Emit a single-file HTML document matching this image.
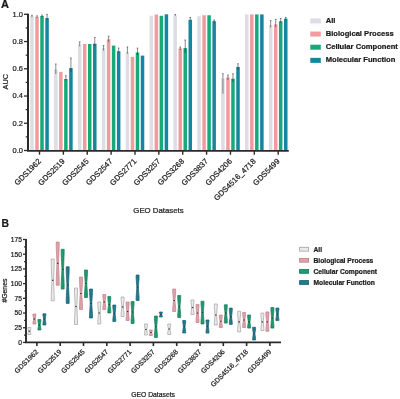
<!DOCTYPE html>
<html><head><meta charset="utf-8"><style>
html,body{margin:0;padding:0;background:#fff;width:400px;height:399px;overflow:hidden}
svg{display:block;will-change:transform}
text{font-family:"Liberation Sans", sans-serif;fill:#1a1a1a;stroke:#1a1a1a;stroke-width:0.22px}
</style></head><body>
<svg width="400" height="399" viewBox="0 0 400 399">
<rect width="400" height="399" fill="#fff"/>
<g id="chartA">
<rect x="30.20" y="16.25" width="3.5" height="134.25" fill="#dddde3"/>
<rect x="35.25" y="16.90" width="3.5" height="133.60" fill="#f09c9e"/>
<rect x="40.25" y="16.00" width="3.5" height="134.50" fill="#15aa7a"/>
<rect x="45.30" y="18.10" width="3.5" height="132.40" fill="#15869d"/>
<rect x="54.07" y="69.50" width="3.5" height="81.00" fill="#dddde3"/>
<rect x="59.12" y="71.90" width="3.5" height="78.60" fill="#f09c9e"/>
<rect x="64.12" y="79.00" width="3.5" height="71.50" fill="#15aa7a"/>
<rect x="69.17" y="68.10" width="3.5" height="82.40" fill="#15869d"/>
<rect x="77.94" y="44.40" width="3.5" height="106.10" fill="#dddde3"/>
<rect x="82.99" y="44.00" width="3.5" height="106.50" fill="#f09c9e"/>
<rect x="87.99" y="44.00" width="3.5" height="106.50" fill="#15aa7a"/>
<rect x="93.04" y="43.75" width="3.5" height="106.75" fill="#15869d"/>
<rect x="101.81" y="48.10" width="3.5" height="102.40" fill="#dddde3"/>
<rect x="106.86" y="39.40" width="3.5" height="111.10" fill="#f09c9e"/>
<rect x="111.86" y="45.60" width="3.5" height="104.90" fill="#15aa7a"/>
<rect x="116.91" y="51.25" width="3.5" height="99.25" fill="#15869d"/>
<rect x="125.68" y="51.90" width="3.5" height="98.60" fill="#dddde3"/>
<rect x="130.73" y="56.90" width="3.5" height="93.60" fill="#f09c9e"/>
<rect x="135.73" y="52.50" width="3.5" height="98.00" fill="#15aa7a"/>
<rect x="140.78" y="55.60" width="3.5" height="94.90" fill="#15869d"/>
<rect x="149.55" y="15.80" width="3.5" height="134.70" fill="#dddde3"/>
<rect x="154.60" y="14.50" width="3.5" height="136.00" fill="#f09c9e"/>
<rect x="159.60" y="15.80" width="3.5" height="134.70" fill="#15aa7a"/>
<rect x="164.65" y="14.30" width="3.5" height="136.20" fill="#15869d"/>
<rect x="173.42" y="15.50" width="3.5" height="135.00" fill="#dddde3"/>
<rect x="178.47" y="48.50" width="3.5" height="102.00" fill="#f09c9e"/>
<rect x="183.47" y="48.10" width="3.5" height="102.40" fill="#15aa7a"/>
<rect x="188.52" y="19.80" width="3.5" height="130.70" fill="#15869d"/>
<rect x="197.29" y="16.25" width="3.5" height="134.25" fill="#dddde3"/>
<rect x="202.34" y="15.25" width="3.5" height="135.25" fill="#f09c9e"/>
<rect x="207.34" y="15.25" width="3.5" height="135.25" fill="#15aa7a"/>
<rect x="212.39" y="21.25" width="3.5" height="129.25" fill="#15869d"/>
<rect x="221.16" y="78.50" width="3.5" height="72.00" fill="#dddde3"/>
<rect x="226.21" y="77.50" width="3.5" height="73.00" fill="#f09c9e"/>
<rect x="231.21" y="78.75" width="3.5" height="71.75" fill="#15aa7a"/>
<rect x="236.26" y="66.90" width="3.5" height="83.60" fill="#15869d"/>
<rect x="245.03" y="14.40" width="3.5" height="136.10" fill="#dddde3"/>
<rect x="250.08" y="14.40" width="3.5" height="136.10" fill="#f09c9e"/>
<rect x="255.08" y="14.40" width="3.5" height="136.10" fill="#15aa7a"/>
<rect x="260.13" y="14.40" width="3.5" height="136.10" fill="#15869d"/>
<rect x="268.90" y="25.00" width="3.5" height="125.50" fill="#dddde3"/>
<rect x="273.95" y="24.40" width="3.5" height="126.10" fill="#f09c9e"/>
<rect x="278.95" y="21.25" width="3.5" height="129.25" fill="#15aa7a"/>
<rect x="284.00" y="18.75" width="3.5" height="131.75" fill="#15869d"/>
<path d="M31.95 15.20V17.20M31.15 15.20H32.75" stroke="#2a2a2a" stroke-width="0.55" fill="none"/>
<path d="M37.00 15.80V18.00M36.20 15.80H37.80" stroke="#2a2a2a" stroke-width="0.55" fill="none"/>
<path d="M42.00 15.00V17.00M41.20 15.00H42.80" stroke="#2a2a2a" stroke-width="0.55" fill="none"/>
<path d="M47.05 14.40V20.00M46.25 14.40H47.85" stroke="#2a2a2a" stroke-width="0.55" fill="none"/>
<path d="M55.82 64.00V74.00M55.02 64.00H56.62" stroke="#2a2a2a" stroke-width="0.55" fill="none"/>
<path d="M65.87 75.70V80.50M65.07 75.70H66.67" stroke="#2a2a2a" stroke-width="0.55" fill="none"/>
<path d="M70.92 58.00V72.00M70.12 58.00H71.72" stroke="#2a2a2a" stroke-width="0.55" fill="none"/>
<path d="M79.69 41.90V46.25M78.89 41.90H80.49" stroke="#2a2a2a" stroke-width="0.55" fill="none"/>
<path d="M94.79 37.50V46.00M93.99 37.50H95.59" stroke="#2a2a2a" stroke-width="0.55" fill="none"/>
<path d="M103.56 45.60V50.60M102.76 45.60H104.36" stroke="#2a2a2a" stroke-width="0.55" fill="none"/>
<path d="M108.61 36.25V41.90M107.81 36.25H109.41" stroke="#2a2a2a" stroke-width="0.55" fill="none"/>
<path d="M118.66 48.10V53.00M117.86 48.10H119.46" stroke="#2a2a2a" stroke-width="0.55" fill="none"/>
<path d="M127.43 46.90V53.75M126.63 46.90H128.23" stroke="#2a2a2a" stroke-width="0.55" fill="none"/>
<path d="M137.48 48.10V55.00M136.68 48.10H138.28" stroke="#2a2a2a" stroke-width="0.55" fill="none"/>
<path d="M175.17 14.50V16.00M174.37 14.50H175.97" stroke="#2a2a2a" stroke-width="0.55" fill="none"/>
<path d="M180.22 47.00V50.00M179.42 47.00H181.02" stroke="#2a2a2a" stroke-width="0.55" fill="none"/>
<path d="M185.22 40.00V53.00M184.42 40.00H186.02" stroke="#2a2a2a" stroke-width="0.55" fill="none"/>
<path d="M190.27 17.50V20.00M189.47 17.50H191.07" stroke="#2a2a2a" stroke-width="0.55" fill="none"/>
<path d="M214.14 20.00V23.00M213.34 20.00H214.94" stroke="#2a2a2a" stroke-width="0.55" fill="none"/>
<path d="M222.91 73.75V93.75M222.11 73.75H223.71" stroke="#2a2a2a" stroke-width="0.55" fill="none"/>
<path d="M227.96 75.00V80.00M227.16 75.00H228.76" stroke="#2a2a2a" stroke-width="0.55" fill="none"/>
<path d="M232.96 73.75V82.00M232.16 73.75H233.76" stroke="#2a2a2a" stroke-width="0.55" fill="none"/>
<path d="M238.01 63.75V70.00M237.21 63.75H238.81" stroke="#2a2a2a" stroke-width="0.55" fill="none"/>
<path d="M270.65 20.60V27.50M269.85 20.60H271.45" stroke="#2a2a2a" stroke-width="0.55" fill="none"/>
<path d="M275.70 19.40V27.00M274.90 19.40H276.50" stroke="#2a2a2a" stroke-width="0.55" fill="none"/>
<path d="M280.70 18.50V23.00M279.90 18.50H281.50" stroke="#2a2a2a" stroke-width="0.55" fill="none"/>
<path d="M285.75 17.50V20.00M284.95 17.50H286.55" stroke="#2a2a2a" stroke-width="0.55" fill="none"/>
<path d="M28.0 13.8V150.85" stroke="#2a2a2a" stroke-width="2" fill="none"/>
<path d="M27.0 150.85H288.8" stroke="#2a2a2a" stroke-width="1.8" fill="none"/>
<path d="M24.0 150.50H28.0" stroke="#2a2a2a" stroke-width="1.3"/>
<text x="23.0" y="152.80" text-anchor="end" font-size="7.5">0.0</text>
<path d="M25.7 136.88H28.0" stroke="#2a2a2a" stroke-width="1.2"/>
<path d="M24.0 123.26H28.0" stroke="#2a2a2a" stroke-width="1.3"/>
<text x="23.0" y="125.56" text-anchor="end" font-size="7.5">0.2</text>
<path d="M25.7 109.64H28.0" stroke="#2a2a2a" stroke-width="1.2"/>
<path d="M24.0 96.02H28.0" stroke="#2a2a2a" stroke-width="1.3"/>
<text x="23.0" y="98.32" text-anchor="end" font-size="7.5">0.4</text>
<path d="M25.7 82.40H28.0" stroke="#2a2a2a" stroke-width="1.2"/>
<path d="M24.0 68.78H28.0" stroke="#2a2a2a" stroke-width="1.3"/>
<text x="23.0" y="71.08" text-anchor="end" font-size="7.5">0.6</text>
<path d="M25.7 55.16H28.0" stroke="#2a2a2a" stroke-width="1.2"/>
<path d="M24.0 41.54H28.0" stroke="#2a2a2a" stroke-width="1.3"/>
<text x="23.0" y="43.84" text-anchor="end" font-size="7.5">0.8</text>
<path d="M25.7 27.92H28.0" stroke="#2a2a2a" stroke-width="1.2"/>
<path d="M24.0 14.30H28.0" stroke="#2a2a2a" stroke-width="1.3"/>
<text x="23.0" y="16.60" text-anchor="end" font-size="7.5">1.0</text>
<path d="M39.50 150.5V154.7" stroke="#2a2a2a" stroke-width="1.4"/>
<text x="41.50" y="161.80" text-anchor="end" font-size="7.75" transform="rotate(-45 41.50 161.80)">GDS1962</text>
<path d="M63.37 150.5V154.7" stroke="#2a2a2a" stroke-width="1.4"/>
<text x="65.37" y="161.80" text-anchor="end" font-size="7.75" transform="rotate(-45 65.37 161.80)">GDS2519</text>
<path d="M87.24 150.5V154.7" stroke="#2a2a2a" stroke-width="1.4"/>
<text x="89.24" y="161.80" text-anchor="end" font-size="7.75" transform="rotate(-45 89.24 161.80)">GDS2545</text>
<path d="M111.11 150.5V154.7" stroke="#2a2a2a" stroke-width="1.4"/>
<text x="113.11" y="161.80" text-anchor="end" font-size="7.75" transform="rotate(-45 113.11 161.80)">GDS2547</text>
<path d="M134.98 150.5V154.7" stroke="#2a2a2a" stroke-width="1.4"/>
<text x="136.98" y="161.80" text-anchor="end" font-size="7.75" transform="rotate(-45 136.98 161.80)">GDS2771</text>
<path d="M158.85 150.5V154.7" stroke="#2a2a2a" stroke-width="1.4"/>
<text x="160.85" y="161.80" text-anchor="end" font-size="7.75" transform="rotate(-45 160.85 161.80)">GDS3257</text>
<path d="M182.72 150.5V154.7" stroke="#2a2a2a" stroke-width="1.4"/>
<text x="184.72" y="161.80" text-anchor="end" font-size="7.75" transform="rotate(-45 184.72 161.80)">GDS3268</text>
<path d="M206.59 150.5V154.7" stroke="#2a2a2a" stroke-width="1.4"/>
<text x="208.59" y="161.80" text-anchor="end" font-size="7.75" transform="rotate(-45 208.59 161.80)">GDS3837</text>
<path d="M230.46 150.5V154.7" stroke="#2a2a2a" stroke-width="1.4"/>
<text x="232.46" y="161.80" text-anchor="end" font-size="7.75" transform="rotate(-45 232.46 161.80)">GDS4206</text>
<path d="M254.33 150.5V154.7" stroke="#2a2a2a" stroke-width="1.4"/>
<text x="256.33" y="161.80" text-anchor="end" font-size="7.75" transform="rotate(-45 256.33 161.80)">GDS4516_4718</text>
<path d="M278.20 150.5V154.7" stroke="#2a2a2a" stroke-width="1.4"/>
<text x="280.20" y="161.80" text-anchor="end" font-size="7.75" transform="rotate(-45 280.20 161.80)">GDS5499</text>
<text x="7.6" y="81.75" text-anchor="middle" font-size="7.3" transform="rotate(-90 7.6 81.75)">AUC</text>
<text x="158.5" y="213.3" text-anchor="middle" font-size="7.8">GEO Datasets</text>
<text x="0.9" y="8.4" font-size="11" font-weight="bold">A</text>
<rect x="310.3" y="18.40" width="10.5" height="5" fill="#dddde3"/>
<text x="325.7" y="22.60" font-size="7.6" font-weight="bold">All</text>
<rect x="310.3" y="31.55" width="10.5" height="5" fill="#f09c9e"/>
<text x="325.7" y="35.75" font-size="7.6" font-weight="bold">Biological Process</text>
<rect x="310.3" y="44.70" width="10.5" height="5" fill="#15aa7a"/>
<text x="325.7" y="48.90" font-size="7.6" font-weight="bold">Cellular Component</text>
<rect x="310.3" y="57.85" width="10.5" height="5" fill="#15869d"/>
<text x="325.7" y="62.05" font-size="7.6" font-weight="bold">Molecular Function</text>
</g>
<g id="chartB">
<path d="M27.92 327.50H30.88V328.43L30.18 331.20L30.88 333.68V334.50H27.92V333.68L28.62 331.20L27.92 328.43Z" fill="#ebebeb" stroke="#a0a0a0" stroke-width="0.7"/>
<path d="M28.62 331.20H30.18" stroke="#333" stroke-width="1.1"/>
<path d="M32.92 314.00H35.88V315.25L35.17 319.00L35.88 322.75V324.00H32.92V322.75L33.62 319.00L32.92 315.25Z" fill="#e0a2aa" stroke="#c07e8a" stroke-width="0.7"/>
<path d="M33.62 319.00H35.17" stroke="#333" stroke-width="1.1"/>
<path d="M37.92 319.50H40.88V320.88L40.17 325.00L40.88 328.75V330.00H37.92V328.75L38.62 325.00L37.92 320.88Z" fill="#1d9a6f" stroke="#157a56" stroke-width="0.7"/>
<path d="M38.62 325.00H40.17" stroke="#333" stroke-width="1.1"/>
<path d="M42.92 313.80H45.88V315.10L45.17 319.00L45.88 323.50V325.00H42.92V323.50L43.62 319.00L42.92 315.10Z" fill="#1f7b8e" stroke="#175f70" stroke-width="0.7"/>
<path d="M43.62 319.00H45.17" stroke="#333" stroke-width="1.1"/>
<path d="M51.23 259.00H54.18V264.32L53.48 280.30L54.18 295.68V300.80H51.23V295.68L51.93 280.30L51.23 264.32Z" fill="#ebebeb" stroke="#a0a0a0" stroke-width="0.7"/>
<path d="M51.93 280.30H53.48" stroke="#333" stroke-width="1.1"/>
<path d="M56.23 242.10H59.18V247.42L58.48 263.40L59.18 279.75V285.20H56.23V279.75L56.93 263.40L56.23 247.42Z" fill="#e0a2aa" stroke="#c07e8a" stroke-width="0.7"/>
<path d="M56.93 263.40H58.48" stroke="#333" stroke-width="1.1"/>
<path d="M61.23 249.30H64.17V254.32L63.47 269.40L64.17 284.18V289.10H61.23V284.18L61.93 269.40L61.23 254.32Z" fill="#1d9a6f" stroke="#157a56" stroke-width="0.7"/>
<path d="M61.93 269.40H63.47" stroke="#333" stroke-width="1.1"/>
<path d="M66.23 266.80H69.17V271.30L68.47 284.80L69.17 298.75V303.40H66.23V298.75L66.93 284.80L66.23 271.30Z" fill="#1f7b8e" stroke="#175f70" stroke-width="0.7"/>
<path d="M66.93 284.80H68.47" stroke="#333" stroke-width="1.1"/>
<path d="M74.53 288.00H77.47V292.62L76.77 306.50L77.47 320.00V324.50H74.53V320.00L75.23 306.50L74.53 292.62Z" fill="#ebebeb" stroke="#a0a0a0" stroke-width="0.7"/>
<path d="M75.23 306.50H76.77" stroke="#333" stroke-width="1.1"/>
<path d="M79.53 277.00H82.47V281.12L81.77 293.50L82.47 305.50V309.50H79.53V305.50L80.23 293.50L79.53 281.12Z" fill="#e0a2aa" stroke="#c07e8a" stroke-width="0.7"/>
<path d="M80.23 293.50H81.77" stroke="#333" stroke-width="1.1"/>
<path d="M84.53 270.00H87.47V273.38L86.77 283.50L87.47 294.00V297.50H84.53V294.00L85.23 283.50L84.53 273.38Z" fill="#1d9a6f" stroke="#157a56" stroke-width="0.7"/>
<path d="M85.23 283.50H86.77" stroke="#333" stroke-width="1.1"/>
<path d="M89.53 289.00H92.47V292.62L91.77 303.50L92.47 314.38V318.00H89.53V314.38L90.23 303.50L89.53 292.62Z" fill="#1f7b8e" stroke="#175f70" stroke-width="0.7"/>
<path d="M90.23 303.50H91.77" stroke="#333" stroke-width="1.1"/>
<path d="M97.83 302.00H100.78V304.75L100.08 313.00L100.78 321.25V324.00H97.83V321.25L98.53 313.00L97.83 304.75Z" fill="#ebebeb" stroke="#a0a0a0" stroke-width="0.7"/>
<path d="M98.53 313.00H100.08" stroke="#333" stroke-width="1.1"/>
<path d="M102.83 294.50H105.78V296.38L105.08 302.00L105.78 307.62V309.50H102.83V307.62L103.53 302.00L102.83 296.38Z" fill="#e0a2aa" stroke="#c07e8a" stroke-width="0.7"/>
<path d="M103.53 302.00H105.08" stroke="#333" stroke-width="1.1"/>
<path d="M107.83 296.50H110.78V298.50L110.08 304.50L110.78 310.88V313.00H107.83V310.88L108.53 304.50L107.83 298.50Z" fill="#1d9a6f" stroke="#157a56" stroke-width="0.7"/>
<path d="M108.53 304.50H110.08" stroke="#333" stroke-width="1.1"/>
<path d="M112.83 305.00H115.78V307.12L115.08 313.50L115.78 319.50V321.50H112.83V319.50L113.53 313.50L112.83 307.12Z" fill="#1f7b8e" stroke="#175f70" stroke-width="0.7"/>
<path d="M113.53 313.50H115.08" stroke="#333" stroke-width="1.1"/>
<path d="M121.12 297.00H124.07V299.50L123.37 307.00L124.07 314.12V316.50H121.12V314.12L121.83 307.00L121.12 299.50Z" fill="#ebebeb" stroke="#a0a0a0" stroke-width="0.7"/>
<path d="M121.83 307.00H123.37" stroke="#333" stroke-width="1.1"/>
<path d="M126.12 302.00H129.07V304.38L128.38 311.50L129.07 318.25V320.50H126.12V318.25L126.83 311.50L126.12 304.38Z" fill="#e0a2aa" stroke="#c07e8a" stroke-width="0.7"/>
<path d="M126.83 311.50H128.38" stroke="#333" stroke-width="1.1"/>
<path d="M131.12 301.50H134.07V304.12L133.38 312.00L134.07 320.62V323.50H131.12V320.62L131.82 312.00L131.12 304.12Z" fill="#1d9a6f" stroke="#157a56" stroke-width="0.7"/>
<path d="M131.82 312.00H133.38" stroke="#333" stroke-width="1.1"/>
<path d="M136.12 275.00H139.07V278.12L138.38 287.50L139.07 297.25V300.50H136.12V297.25L136.82 287.50L136.12 278.12Z" fill="#1f7b8e" stroke="#175f70" stroke-width="0.7"/>
<path d="M136.82 287.50H138.38" stroke="#333" stroke-width="1.1"/>
<path d="M144.43 324.00H147.38V325.38L146.68 329.50L147.38 333.62V335.00H144.43V333.62L145.12 329.50L144.43 325.38Z" fill="#ebebeb" stroke="#a0a0a0" stroke-width="0.7"/>
<path d="M145.12 329.50H146.68" stroke="#333" stroke-width="1.1"/>
<path d="M149.43 330.00H152.38V330.62L151.68 332.50L152.38 334.75V335.50H149.43V334.75L150.12 332.50L149.43 330.62Z" fill="#e0a2aa" stroke="#c07e8a" stroke-width="0.7"/>
<path d="M150.12 332.50H151.68" stroke="#333" stroke-width="1.1"/>
<path d="M154.43 316.00H157.38V318.70L156.68 326.80L157.38 334.82V337.50H154.43V334.82L155.12 326.80L154.43 318.70Z" fill="#1d9a6f" stroke="#157a56" stroke-width="0.7"/>
<path d="M155.12 326.80H156.68" stroke="#333" stroke-width="1.1"/>
<path d="M159.43 312.00H162.38V312.62L161.68 314.50L162.38 316.38V317.00H159.43V316.38L160.12 314.50L159.43 312.62Z" fill="#1f7b8e" stroke="#175f70" stroke-width="0.7"/>
<path d="M160.12 314.50H161.68" stroke="#333" stroke-width="1.1"/>
<path d="M167.73 324.00H170.68V325.25L169.98 329.00L170.68 333.12V334.50H167.73V333.12L168.43 329.00L167.73 325.25Z" fill="#ebebeb" stroke="#a0a0a0" stroke-width="0.7"/>
<path d="M168.43 329.00H169.98" stroke="#333" stroke-width="1.1"/>
<path d="M172.73 289.00H175.68V291.88L174.98 300.50L175.68 308.75V311.50H172.73V308.75L173.43 300.50L172.73 291.88Z" fill="#e0a2aa" stroke="#c07e8a" stroke-width="0.7"/>
<path d="M173.43 300.50H174.98" stroke="#333" stroke-width="1.1"/>
<path d="M177.73 295.50H180.68V298.32L179.98 306.80L180.68 314.82V317.50H177.73V314.82L178.43 306.80L177.73 298.32Z" fill="#1d9a6f" stroke="#157a56" stroke-width="0.7"/>
<path d="M178.43 306.80H179.98" stroke="#333" stroke-width="1.1"/>
<path d="M182.73 320.50H185.68V322.00L184.98 326.50L185.68 331.38V333.00H182.73V331.38L183.43 326.50L182.73 322.00Z" fill="#1f7b8e" stroke="#175f70" stroke-width="0.7"/>
<path d="M183.43 326.50H184.98" stroke="#333" stroke-width="1.1"/>
<path d="M191.03 300.00H193.97V301.88L193.28 307.50L193.97 312.75V314.50H191.03V312.75L191.72 307.50L191.03 301.88Z" fill="#ebebeb" stroke="#a0a0a0" stroke-width="0.7"/>
<path d="M191.72 307.50H193.28" stroke="#333" stroke-width="1.1"/>
<path d="M196.03 304.40H198.97V306.57L198.28 313.10L198.97 320.15V322.50H196.03V320.15L196.72 313.10L196.03 306.57Z" fill="#e0a2aa" stroke="#c07e8a" stroke-width="0.7"/>
<path d="M196.72 313.10H198.28" stroke="#333" stroke-width="1.1"/>
<path d="M201.03 301.25H203.97V304.06L203.28 312.50L203.97 321.12V324.00H201.03V321.12L201.72 312.50L201.03 304.06Z" fill="#1d9a6f" stroke="#157a56" stroke-width="0.7"/>
<path d="M201.72 312.50H203.28" stroke="#333" stroke-width="1.1"/>
<path d="M206.03 320.00H208.97V321.56L208.28 326.25L208.97 331.39V333.10H206.03V331.39L206.72 326.25L206.03 321.56Z" fill="#1f7b8e" stroke="#175f70" stroke-width="0.7"/>
<path d="M206.72 326.25H208.28" stroke="#333" stroke-width="1.1"/>
<path d="M214.33 304.00H217.28V306.75L216.58 315.00L217.28 322.50V325.00H214.33V322.50L215.03 315.00L214.33 306.75Z" fill="#ebebeb" stroke="#a0a0a0" stroke-width="0.7"/>
<path d="M215.03 315.00H216.58" stroke="#333" stroke-width="1.1"/>
<path d="M219.33 315.00H222.28V316.56L221.58 321.25L222.28 325.94V327.50H219.33V325.94L220.03 321.25L219.33 316.56Z" fill="#e0a2aa" stroke="#c07e8a" stroke-width="0.7"/>
<path d="M220.03 321.25H221.58" stroke="#333" stroke-width="1.1"/>
<path d="M224.33 304.75H227.28V306.84L226.58 313.10L227.28 320.60V323.10H224.33V320.60L225.03 313.10L224.33 306.84Z" fill="#1d9a6f" stroke="#157a56" stroke-width="0.7"/>
<path d="M225.03 313.10H226.58" stroke="#333" stroke-width="1.1"/>
<path d="M229.33 308.10H232.28V310.30L231.58 316.90L232.28 322.52V324.40H229.33V322.52L230.03 316.90L229.33 310.30Z" fill="#1f7b8e" stroke="#175f70" stroke-width="0.7"/>
<path d="M230.03 316.90H231.58" stroke="#333" stroke-width="1.1"/>
<path d="M237.63 311.25H240.58V313.91L239.88 321.90L240.58 329.40V331.90H237.63V329.40L238.33 321.90L237.63 313.91Z" fill="#ebebeb" stroke="#a0a0a0" stroke-width="0.7"/>
<path d="M238.33 321.90H239.88" stroke="#333" stroke-width="1.1"/>
<path d="M242.63 312.50H245.58V314.38L244.88 320.00L245.58 325.62V327.50H242.63V325.62L243.33 320.00L242.63 314.38Z" fill="#e0a2aa" stroke="#c07e8a" stroke-width="0.7"/>
<path d="M243.33 320.00H244.88" stroke="#333" stroke-width="1.1"/>
<path d="M247.63 315.00H250.58V316.73L249.88 321.90L250.58 326.55V328.10H247.63V326.55L248.33 321.90L247.63 316.73Z" fill="#1d9a6f" stroke="#157a56" stroke-width="0.7"/>
<path d="M248.33 321.90H249.88" stroke="#333" stroke-width="1.1"/>
<path d="M252.63 327.25H255.58V328.88L254.88 333.75L255.58 338.44V340.00H252.63V338.44L253.33 333.75L252.63 328.88Z" fill="#1f7b8e" stroke="#175f70" stroke-width="0.7"/>
<path d="M253.33 333.75H254.88" stroke="#333" stroke-width="1.1"/>
<path d="M260.92 313.10H263.88V315.30L263.18 321.90L263.88 328.43V330.60H260.92V328.43L261.62 321.90L260.92 315.30Z" fill="#ebebeb" stroke="#a0a0a0" stroke-width="0.7"/>
<path d="M261.62 321.90H263.18" stroke="#333" stroke-width="1.1"/>
<path d="M265.92 311.90H268.88V314.40L268.18 321.90L268.88 328.91V331.25H265.92V328.91L266.62 321.90L265.92 314.40Z" fill="#e0a2aa" stroke="#c07e8a" stroke-width="0.7"/>
<path d="M266.62 321.90H268.18" stroke="#333" stroke-width="1.1"/>
<path d="M270.92 307.50H273.88V310.15L273.18 318.10L273.88 325.60V328.10H270.92V325.60L271.62 318.10L270.92 310.15Z" fill="#1d9a6f" stroke="#157a56" stroke-width="0.7"/>
<path d="M271.62 318.10H273.18" stroke="#333" stroke-width="1.1"/>
<path d="M275.92 308.10H278.88V309.68L278.18 314.40L278.88 319.05V320.60H275.92V319.05L276.62 314.40L275.92 309.68Z" fill="#1f7b8e" stroke="#175f70" stroke-width="0.7"/>
<path d="M276.62 314.40H278.18" stroke="#333" stroke-width="1.1"/>
<path d="M26.0 239.0V342.45" stroke="#2a2a2a" stroke-width="1.9" fill="none"/>
<path d="M25.0 342.45H281.0" stroke="#2a2a2a" stroke-width="1.7" fill="none"/>
<path d="M23.0 342.45H26.0" stroke="#2a2a2a" stroke-width="1.3"/>
<text x="22.0" y="344.75" text-anchor="end" font-size="6.7">0</text>
<path d="M24.1 335.10H26.0" stroke="#2a2a2a" stroke-width="1.2"/>
<path d="M23.0 327.74H26.0" stroke="#2a2a2a" stroke-width="1.3"/>
<text x="22.0" y="330.04" text-anchor="end" font-size="6.7">25</text>
<path d="M24.1 320.39H26.0" stroke="#2a2a2a" stroke-width="1.2"/>
<path d="M23.0 313.04H26.0" stroke="#2a2a2a" stroke-width="1.3"/>
<text x="22.0" y="315.34" text-anchor="end" font-size="6.7">50</text>
<path d="M24.1 305.68H26.0" stroke="#2a2a2a" stroke-width="1.2"/>
<path d="M23.0 298.33H26.0" stroke="#2a2a2a" stroke-width="1.3"/>
<text x="22.0" y="300.63" text-anchor="end" font-size="6.7">75</text>
<path d="M24.1 290.98H26.0" stroke="#2a2a2a" stroke-width="1.2"/>
<path d="M23.0 283.62H26.0" stroke="#2a2a2a" stroke-width="1.3"/>
<text x="22.0" y="285.92" text-anchor="end" font-size="6.7">100</text>
<path d="M24.1 276.27H26.0" stroke="#2a2a2a" stroke-width="1.2"/>
<path d="M23.0 268.91H26.0" stroke="#2a2a2a" stroke-width="1.3"/>
<text x="22.0" y="271.21" text-anchor="end" font-size="6.7">125</text>
<path d="M24.1 261.56H26.0" stroke="#2a2a2a" stroke-width="1.2"/>
<path d="M23.0 254.21H26.0" stroke="#2a2a2a" stroke-width="1.3"/>
<text x="22.0" y="256.51" text-anchor="end" font-size="6.7">150</text>
<path d="M24.1 246.85H26.0" stroke="#2a2a2a" stroke-width="1.2"/>
<path d="M23.0 239.50H26.0" stroke="#2a2a2a" stroke-width="1.3"/>
<text x="22.0" y="241.80" text-anchor="end" font-size="6.7">175</text>
<path d="M36.90 342.45V346.05" stroke="#2a2a2a" stroke-width="1.6"/>
<text x="38.70" y="352.25" text-anchor="end" font-size="6.9" transform="rotate(-45 38.70 352.25)">GDS1962</text>
<path d="M60.20 342.45V346.05" stroke="#2a2a2a" stroke-width="1.6"/>
<text x="62.00" y="352.25" text-anchor="end" font-size="6.9" transform="rotate(-45 62.00 352.25)">GDS2519</text>
<path d="M83.50 342.45V346.05" stroke="#2a2a2a" stroke-width="1.6"/>
<text x="85.30" y="352.25" text-anchor="end" font-size="6.9" transform="rotate(-45 85.30 352.25)">GDS2545</text>
<path d="M106.80 342.45V346.05" stroke="#2a2a2a" stroke-width="1.6"/>
<text x="108.60" y="352.25" text-anchor="end" font-size="6.9" transform="rotate(-45 108.60 352.25)">GDS2547</text>
<path d="M130.10 342.45V346.05" stroke="#2a2a2a" stroke-width="1.6"/>
<text x="131.90" y="352.25" text-anchor="end" font-size="6.9" transform="rotate(-45 131.90 352.25)">GDS2771</text>
<path d="M153.40 342.45V346.05" stroke="#2a2a2a" stroke-width="1.6"/>
<text x="155.20" y="352.25" text-anchor="end" font-size="6.9" transform="rotate(-45 155.20 352.25)">GDS3257</text>
<path d="M176.70 342.45V346.05" stroke="#2a2a2a" stroke-width="1.6"/>
<text x="178.50" y="352.25" text-anchor="end" font-size="6.9" transform="rotate(-45 178.50 352.25)">GDS3268</text>
<path d="M200.00 342.45V346.05" stroke="#2a2a2a" stroke-width="1.6"/>
<text x="201.80" y="352.25" text-anchor="end" font-size="6.9" transform="rotate(-45 201.80 352.25)">GDS3837</text>
<path d="M223.30 342.45V346.05" stroke="#2a2a2a" stroke-width="1.6"/>
<text x="225.10" y="352.25" text-anchor="end" font-size="6.9" transform="rotate(-45 225.10 352.25)">GDS4206</text>
<path d="M246.60 342.45V346.05" stroke="#2a2a2a" stroke-width="1.6"/>
<text x="248.40" y="352.25" text-anchor="end" font-size="6.9" transform="rotate(-45 248.40 352.25)">GDS4516_4718</text>
<path d="M269.90 342.45V346.05" stroke="#2a2a2a" stroke-width="1.6"/>
<text x="271.70" y="352.25" text-anchor="end" font-size="6.9" transform="rotate(-45 271.70 352.25)">GDS5499</text>
<text x="6.6" y="290.6" text-anchor="middle" font-size="6.8" transform="rotate(-90 6.6 290.6)">#Genes</text>
<text x="153.1" y="397.1" text-anchor="middle" font-size="6.8">GEO Datasets</text>
<text x="1.5" y="226.8" font-size="11.3" font-weight="bold" transform="translate(1.5 226.8) scale(0.92 1) translate(-1.5 -226.8)">B</text>
<rect x="299.6" y="247.30" width="9" height="3.8" fill="#ebebeb" stroke="#a0a0a0" stroke-width="0.8"/>
<text x="313.5" y="251.50" font-size="6.7" font-weight="bold">All</text>
<rect x="299.6" y="258.40" width="9" height="3.8" fill="#e0a2aa" stroke="#c07e8a" stroke-width="0.8"/>
<text x="313.5" y="262.60" font-size="6.7" font-weight="bold">Biological Process</text>
<rect x="299.6" y="269.50" width="9" height="3.8" fill="#1d9a6f" stroke="#157a56" stroke-width="0.8"/>
<text x="313.5" y="273.70" font-size="6.7" font-weight="bold">Cellular Component</text>
<rect x="299.6" y="280.60" width="9" height="3.8" fill="#1f7b8e" stroke="#175f70" stroke-width="0.8"/>
<text x="313.5" y="284.80" font-size="6.7" font-weight="bold">Molecular Function</text>
</g>
</svg></body></html>
